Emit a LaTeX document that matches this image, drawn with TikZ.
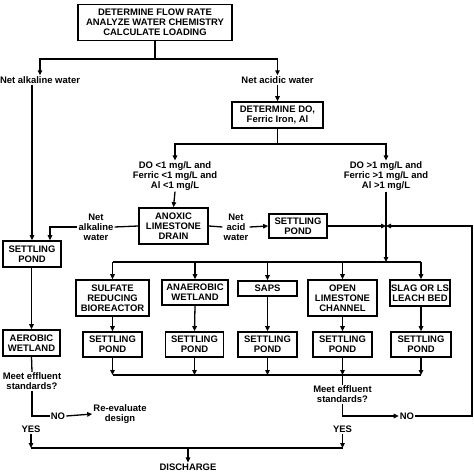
\documentclass[tikz,border=0pt]{standalone}
\usepackage{fontspec}
\setmainfont{Liberation Sans}
\usetikzlibrary{arrows.meta}
\begin{document}
\begin{tikzpicture}[x=1bp,y=-1bp,
  every node/.style={font=\fontsize{9.5}{10}\selectfont\bfseries, align=center, inner sep=1bp},
  box/.style={draw, line width=1.7bp, inner sep=0pt},
  conn/.style={line width=1.3bp},
  arr/.style={conn, -{Triangle[length=5bp,width=4.5bp]}}]
\useasboundingbox (0,0) rectangle (474,474);
% boxes
\node[box, minimum width=154bp, minimum height=36bp] (top) at (155,22.5) {DETERMINE FLOW RATE\\ANALYZE WATER CHEMISTRY\\CALCULATE LOADING};
\node[box, minimum width=91bp, minimum height=26bp] (detdo) at (277.5,115) {DETERMINE DO,\\Ferric Iron, Al};
\node[box, minimum width=69bp, minimum height=36bp] (ald) at (173.5,226) {ANOXIC\\LIMESTONE\\DRAIN};
\node[box, minimum width=58bp, minimum height=26bp] (lpond) at (32,254) {SETTLING\\POND};
\node[box, minimum width=58bp, minimum height=24bp] (rpond) at (298,226) {SETTLING\\POND};
\node[box, minimum width=73bp, minimum height=36bp] (srb) at (112.5,298) {SULFATE\\REDUCING\\BIOREACTOR};
\node[box, minimum width=66bp, minimum height=25bp] (anw) at (195,292.5) {ANAEROBIC\\WETLAND};
\node[box, minimum width=59bp, minimum height=15bp] (saps) at (267.5,288.5) {SAPS};
\node[box, minimum width=69bp, minimum height=36bp] (olc) at (342.5,298) {OPEN\\LIMESTONE\\CHANNEL};
\node[box, minimum width=60bp, minimum height=26bp] (slag) at (420,293) {SLAG OR LS\\LEACH BED};
\node[box, minimum width=59bp, minimum height=25bp] (p1) at (112.5,344.5) {SETTLING\\POND};
\node[box, minimum width=58bp, minimum height=25bp] (p2) at (194.5,344.5) {SETTLING\\POND};
\node[box, minimum width=59bp, minimum height=25bp] (p3) at (267.5,344.5) {SETTLING\\POND};
\node[box, minimum width=59bp, minimum height=25bp] (p4) at (342.5,344.5) {SETTLING\\POND};
\node[box, minimum width=60bp, minimum height=25bp] (p5) at (421,344.5) {SETTLING\\POND};
\node[box, minimum width=57bp, minimum height=26bp] (aer) at (31.5,343) {AEROBIC\\WETLAND};
% labels
\node (alk) at (40,80) {Net alkaline water};
\node (acid) at (277.5,80) {Net acidic water};
\node (dolt) at (175,176) {DO <1 mg/L and\\Ferric <1 mg/L and\\Al <1 mg/L};
\node (dogt) at (386,176) {DO >1 mg/L and\\Ferric >1 mg/L and\\Al >1 mg/L};
\node (nalk) at (96,227) {Net\\alkaline\\water};
\node (nacid) at (236,227) {Net\\acid\\water};
\node (meetL) at (32,381.5) {Meet effluent\\standards?};
\node (meetR) at (342.5,394.5) {Meet effluent\\standards?};
\node (noL) at (58,416) {NO};
\node (reeval) at (120,414) {Re-evaluate\\design};
\node (yesL) at (31,429) {YES};
\node (noR) at (407,416) {NO};
\node (yesR) at (342.5,429) {YES};
\node (dis) at (188,467) {DISCHARGE};
% junctions
\coordinate (j1) at (155,59);
\coordinate (j2) at (277.5,144);
\coordinate (j3) at (386,226);
\coordinate (j4) at (386,262);
\coordinate (k) at (472,226);
\coordinate (j5) at (342.5,375);
\coordinate (j7) at (342.5,448);
\coordinate (j8) at (31,448);
\coordinate (na) at (50,227);
% connectors
\draw[conn] (top.south) -- (j1);
\draw[arr] (j1) -| (alk.north);
\draw[arr] (j1) -| (acid.north);
\draw[arr] (alk.south -| lpond.north) -- (lpond.north);
\draw[arr] (acid.south) -- (detdo.north);
\draw[conn] (detdo.south) -- (j2);
\draw[arr] (j2) -| (dolt.north);
\draw[arr] (j2) -| (dogt.north);
\draw[arr] (dolt.south) -- (ald.north);
\draw[conn] (ald.west) -- (nalk.east);
\draw[arr] (nalk.west) -- (na) -- (na |- lpond.north);
\draw[conn] (ald.east) -- (nacid.west);
\draw[arr] (nacid.east) -- (rpond.west);
\draw[arr] (rpond.east) -- (j3);
\draw[arr] (dogt.south) -- (j4);
\draw[conn] (j4 -| srb.north) -- (j4 -| p5.north);
\foreach \b in {srb,anw,saps,olc}
  \draw[arr] (j4 -| \b.north) -- (\b.north);
\draw[arr] (j4 -| p5.north) -- (p5.north |- slag.north);
\draw[arr] (srb.south) -- (p1.north);
\draw[arr] (anw.south) -- (p2.north);
\draw[arr] (saps.south) -- (p3.north);
\draw[arr] (olc.south) -- (p4.north);
\draw[arr] (slag.south -| p5.north) -- (p5.north);
\foreach \p in {p1,p2,p3,p4,p5}
  \draw[arr] (\p.south) -- (\p.south |- j5);
\draw[conn] (j5 -| p1.south) -- (j5 -| p5.south);
\draw[conn] (j5) -- (meetR.north);
\draw[arr] (meetR.south) |- (noR.west);
\draw[arr] (noR.east) -| (k) -- (j3);
\draw[arr] (yesR.south) -- (j7);
\draw[conn] (j8) -- (j7);
\draw[arr] (dis.north |- j7) -- (dis.north);
\draw[arr] (lpond.south -| aer.north) -- (aer.north);
\draw[conn] (aer.south) -- (meetL.north);
\draw[conn] (meetL.south) |- (noL.west);
\draw[arr] (noL.east) -- (reeval.west);
\draw[arr] (yesL.south) -- (j8);
\end{tikzpicture}
\end{document}
